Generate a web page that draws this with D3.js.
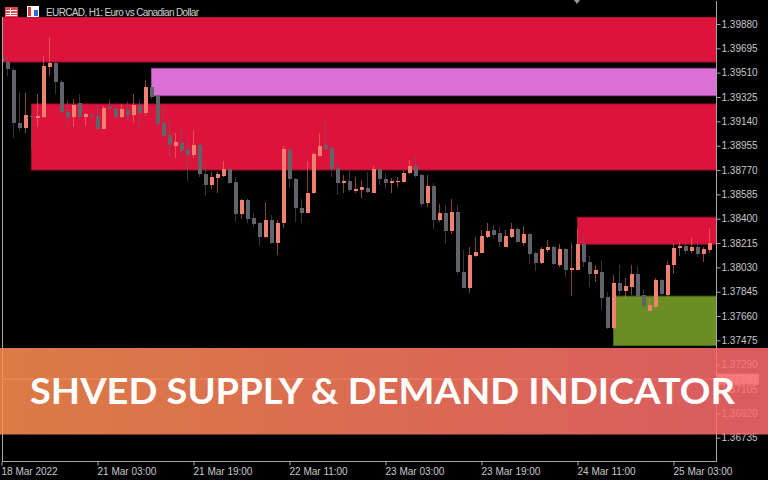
<!DOCTYPE html>
<html><head><meta charset="utf-8">
<script src="https://cdn.jsdelivr.net/npm/d3@7"></script>
<style>html,body{margin:0;padding:0;background:#000;overflow:hidden}</style>
</head><body><svg id="c" width="768" height="480"></svg>
<script>
// ---------- data (EURCAD H1) ----------
const openP=[
1.39629,1.39594,1.39530,1.39124,1.39092,1.39179,1.39163,1.39176,1.39556,1.39587,
1.39442,1.39214,1.39176,1.39282,1.39173,1.39190,1.39183,1.39084,1.39247,1.39239,
1.39173,1.39226,1.39188,1.39264,1.39201,1.39399,1.39335,1.39125,1.39036,1.38955,
1.38978,1.38922,1.38884,1.38960,1.38742,1.38656,1.38712,1.38725,1.38776,1.38682,
1.38434,1.38542,1.38408,1.38365,1.38264,1.38390,1.38213,1.38365,1.38922,1.38702,
1.38484,1.38446,1.38593,1.38879,1.38960,1.38935,1.38783,1.38669,1.38689,1.38611,
1.38616,1.38631,1.38598,1.38776,1.38702,1.38674,1.38677,1.38677,1.38745,1.38803,
1.38732,1.38517,1.38649,1.38390,1.38446,1.38307,1.38451,1.37998,1.37876,1.38117,
1.38142,1.38259,1.38314,1.38289,1.38188,1.38264,1.38320,1.38213,1.38282,1.38137,
1.38061,1.38162,1.38188,1.38048,1.38168,1.38010,1.38010,1.38206,1.38074,1.37980,
1.37995,1.37801,1.37567,1.37914,1.37853,1.37881,1.37978,1.37817,1.37701,1.37727,
1.37934,1.37820,1.38046,1.38178,1.38193,1.38157,1.38183,1.38130,1.38162];
const highP=[
1.39652,1.39637,1.39546,1.39363,1.39358,1.39185,1.39346,1.39637,1.39781,1.39591,
1.39454,1.39300,1.39308,1.39346,1.39200,1.39214,1.39264,1.39257,1.39308,1.39242,
1.39270,1.39295,1.39346,1.39310,1.39454,1.39409,1.39340,1.39264,1.39158,1.39049,
1.39092,1.39011,1.39074,1.38968,1.38821,1.38758,1.38758,1.38839,1.38783,1.38720,
1.38550,1.38550,1.38441,1.38375,1.38530,1.38428,1.38390,1.38955,1.38930,1.38710,
1.38550,1.38839,1.38910,1.39054,1.39143,1.38945,1.38821,1.38732,1.38770,1.38720,
1.38694,1.38758,1.38801,1.38782,1.38745,1.38707,1.38720,1.38763,1.38846,1.38867,
1.38740,1.38732,1.38669,1.38512,1.38504,1.38548,1.38504,1.38162,1.38188,1.38259,
1.38314,1.38370,1.38352,1.38335,1.38314,1.38365,1.38340,1.38345,1.38288,1.38143,
1.38183,1.38238,1.38193,1.38206,1.38174,1.38218,1.38318,1.38276,1.38117,1.38048,
1.38086,1.37846,1.37972,1.38048,1.37947,1.38048,1.38041,1.37864,1.37788,1.37950,
1.37942,1.38079,1.38218,1.38226,1.38226,1.38254,1.38233,1.38188,1.38330];
const lowP=[
1.39576,1.39485,1.39014,1.39067,1.39049,1.38938,1.39100,1.39163,1.39485,1.39346,
1.39188,1.39100,1.39100,1.39150,1.39107,1.39150,1.39074,1.39082,1.39226,1.39166,
1.39163,1.39150,1.39125,1.39087,1.39181,1.39310,1.39100,1.39024,1.38884,1.38864,
1.38884,1.38687,1.38859,1.38720,1.38575,1.38626,1.38593,1.38720,1.38662,1.38373,
1.38398,1.38365,1.38340,1.38195,1.38251,1.38208,1.38124,1.38327,1.38631,1.38378,
1.38365,1.38441,1.38588,1.38872,1.38922,1.38720,1.38580,1.38593,1.38606,1.38593,
1.38560,1.38599,1.38596,1.38656,1.38626,1.38593,1.38644,1.38672,1.38740,1.38707,
1.38487,1.38492,1.38322,1.38378,1.38208,1.38282,1.37972,1.37874,1.37838,1.38112,
1.38137,1.38251,1.38244,1.38188,1.38185,1.38251,1.38216,1.38193,1.38056,1.38005,
1.38056,1.38150,1.38048,1.38031,1.37960,1.37815,1.38007,1.38036,1.37881,1.37919,
1.37706,1.37562,1.37562,1.37820,1.37788,1.37820,1.37805,1.37706,1.37699,1.37722,
1.37820,1.37798,1.37982,1.38117,1.38132,1.38137,1.38112,1.38074,1.38137];
const closeP=[
1.39591,1.39536,1.39128,1.39093,1.39186,1.39171,1.39181,1.39563,1.39587,1.39437,
1.39209,1.39176,1.39264,1.39176,1.39196,1.39186,1.39080,1.39244,1.39236,1.39173,
1.39234,1.39188,1.39264,1.39201,1.39399,1.39328,1.39120,1.39031,1.38960,1.38981,
1.38917,1.38884,1.38960,1.38740,1.38656,1.38717,1.38742,1.38776,1.38674,1.38434,
1.38542,1.38398,1.38360,1.38264,1.38390,1.38213,1.38365,1.38928,1.38700,1.38479,
1.38441,1.38598,1.38892,1.38955,1.38930,1.38778,1.38674,1.38689,1.38618,1.38626,
1.38644,1.38606,1.38776,1.38700,1.38674,1.38685,1.38687,1.38750,1.38803,1.38727,
1.38512,1.38649,1.38390,1.38446,1.38307,1.38451,1.37993,1.37876,1.38124,1.38147,
1.38269,1.38307,1.38276,1.38221,1.38269,1.38320,1.38221,1.38282,1.38132,1.38061,
1.38170,1.38183,1.38054,1.38168,1.38010,1.38023,1.38206,1.38069,1.37980,1.38010,
1.37794,1.37567,1.37914,1.37853,1.37887,1.37978,1.37808,1.37737,1.37742,1.37934,
1.37826,1.38048,1.38180,1.38193,1.38157,1.38183,1.38130,1.38168,1.38216];

const timeLabels=["18 Mar 2022","21 Mar 03:00","21 Mar 19:00","22 Mar 11:00","23 Mar 03:00","23 Mar 19:00","24 Mar 11:00","25 Mar 03:00"];
const timeLabelIdx=[0,16,32,48,64,80,96,112];
const priceTicks=[1.39880,1.39695,1.39510,1.39325,1.39140,1.38955,1.38770,1.38585,1.38400,1.38215,1.38030,1.37845,1.37660,1.37475,1.37290,1.37105,1.36920,1.36735];

const zoneStart=[-1,25,5,96,102];
const zoneTop=[1.39933,1.39543,1.39272,1.38411,1.37811];
const zoneBottom=[1.39591,1.39335,1.38770,1.38206,1.37435];
const zoneKind=["supply","weak","supply","supply","demand"];
const bidPrice=1.37180;
const titleText="EURCAD, H1:  Euro vs Canadian Dollar";
const bannerText="SHVED SUPPLY & DEMAND INDICATOR";

// ---------- drawing ----------
const svg=d3.select("#c");
const W=768,H=480, L=2, R=716, T=2, B=461;
const x=d3.scaleLinear().domain([0,118]).range([1.5,709.5]);
const y=d3.scaleLinear().domain([1.36735,1.39880]).range([437.7,24]);

svg.append("rect").attr("width",W).attr("height",H).attr("fill","#000");
const defs=svg.append("defs");
defs.append("clipPath").attr("id","plot").append("rect").attr("x",L).attr("y",T).attr("width",R-L).attr("height",B-T);
const g=defs.append("linearGradient").attr("id","bgrad").attr("x1","0").attr("x2","1").attr("y1","0").attr("y2","0");
g.append("stop").attr("offset","0").attr("stop-color","#ff8f50");
g.append("stop").attr("offset","1").attr("stop-color","#fe6a70");

const plot=svg.append("g").attr("clip-path","url(#plot)");
const zoneFill={supply:"#dc143c",weak:"#da70d6",demand:"#6b8e23"};
const zoneStroke={supply:"#9e0f2c",weak:"#a04aa0",demand:"#4a6618"};
const zones=zoneStart.map((s,i)=>({s,top:zoneTop[i],bot:zoneBottom[i],k:zoneKind[i]}));
plot.selectAll("rect.zone").data(zones).join("rect").attr("class","zone")
  .attr("x",d=>Math.max(x(d.s),L)).attr("y",d=>y(d.top))
  .attr("width",d=>R+2-Math.max(x(d.s),L)).attr("height",d=>y(d.bot)-y(d.top))
  .attr("fill",d=>zoneFill[d.k]).attr("stroke",d=>zoneStroke[d.k]).attr("stroke-width",1);

const candles=openP.map((o,i)=>({i,o,h:highP[i],l:lowP[i],c:closeP[i]}));
const bull="#f08070", bear="#60646a";
const cg=plot.append("g").attr("shape-rendering","crispEdges");
cg.selectAll("line").data(candles).join("line")
  .attr("x1",d=>x(d.i)).attr("x2",d=>x(d.i)).attr("y1",d=>y(d.h)).attr("y2",d=>y(d.l))
  .attr("stroke",d=>d.c>=d.o?bull:bear).attr("stroke-opacity",0.55).attr("stroke-width",1);
cg.selectAll("rect").data(candles).join("rect")
  .attr("x",d=>x(d.i)-2).attr("width",4)
  .attr("y",d=>y(Math.max(d.o,d.c)))
  .attr("height",d=>Math.max(1.2,Math.abs(y(d.o)-y(d.c))))
  .attr("fill",d=>d.c>=d.o?bull:bear);

// bid line
plot.append("line").attr("x1",L).attr("x2",R).attr("y1",y(bidPrice)).attr("y2",y(bidPrice))
  .attr("stroke","#8a8a8a").attr("stroke-width",1);

// frame
svg.append("rect").attr("x",L+0.5).attr("y",T-0.5).attr("width",R-L).attr("height",B-T+1)
  .attr("fill","none").attr("stroke","#a8a8a8").attr("stroke-width",1).attr("shape-rendering","crispEdges");

// axes
const fontAx="Liberation Sans, Arial, sans-serif";
const yAx=svg.append("g").attr("transform",`translate(${R+0.5},0)`)
  .call(d3.axisRight(y).tickValues(priceTicks).tickSize(4).tickPadding(1).tickFormat(d3.format(".5f")));
yAx.select(".domain").remove();
yAx.selectAll("line").attr("stroke","#a8a8a8");
yAx.selectAll("text").attr("fill","#c8c8c8").style("font-family",fontAx).style("font-size","10px");

// bid label
svg.append("rect").attr("x",717).attr("y",y(bidPrice)-5.5).attr("width",42).attr("height",11).attr("fill","#b8b8b8");
svg.append("text").attr("x",720).attr("y",y(bidPrice)+3.5).text(d3.format(".5f")(bidPrice))
  .attr("fill","#ffffff").style("font-family",fontAx).style("font-size","10px");

const xAx=svg.append("g").attr("transform",`translate(0,${B+0.5})`)
  .call(d3.axisBottom(x).tickValues(timeLabelIdx).tickSize(4).tickPadding(2).tickFormat((d,i)=>timeLabels[i]));
xAx.select(".domain").remove();
xAx.selectAll("line").attr("stroke","#a8a8a8");
xAx.selectAll("text").attr("fill","#c8c8c8").attr("text-anchor","start").attr("dx",-0.5)
  .style("font-family",fontAx).style("font-size","10px");

// title bar
svg.append("rect").attr("x",0).attr("y",0).attr("width",R).attr("height",17).attr("fill","#000");
const ic=svg.append("g").attr("shape-rendering","crispEdges");
ic.append("rect").attr("x",5).attr("y",7).attr("width",13).attr("height",10).attr("fill","#e0484f");
[9.5,12.5,15].forEach(v=>ic.append("rect").attr("x",6).attr("y",v).attr("width",11).attr("height",1).attr("fill","#fff"));
ic.append("rect").attr("x",10).attr("y",8).attr("width",1).attr("height",8).attr("fill","#fff");
ic.append("rect").attr("x",27).attr("y",6).attr("width",12).attr("height",11).attr("fill","#fff");
ic.append("rect").attr("x",28).attr("y",7).attr("width",3).attr("height",9).attr("fill","#d83a3a");
ic.append("rect").attr("x",34).attr("y",10).attr("width",4).attr("height",6).attr("fill","#2a6fd8");
svg.append("text").attr("x",46).attr("y",16).text(titleText).attr("textLength",153)
  .attr("fill","#d0d0d0").style("font-family",fontAx).style("font-size","10px");
svg.append("path").attr("d","M574,0 L580,0 L577,4 Z").attr("fill","#9a9a9a");

// banner
svg.append("rect").attr("x",0).attr("y",348).attr("width",W).attr("height",86.5)
  .attr("fill","url(#bgrad)").attr("opacity",0.86);
svg.append("text").attr("x",382.5).attr("y",403.5).attr("text-anchor","middle")
  .attr("textLength",705).attr("lengthAdjust","spacingAndGlyphs")
  .text(bannerText).attr("fill","#ffffff")
  .style("font-family","Lato, 'Open Sans', sans-serif").style("font-weight","700").style("font-size","37px");
</script></body></html>
